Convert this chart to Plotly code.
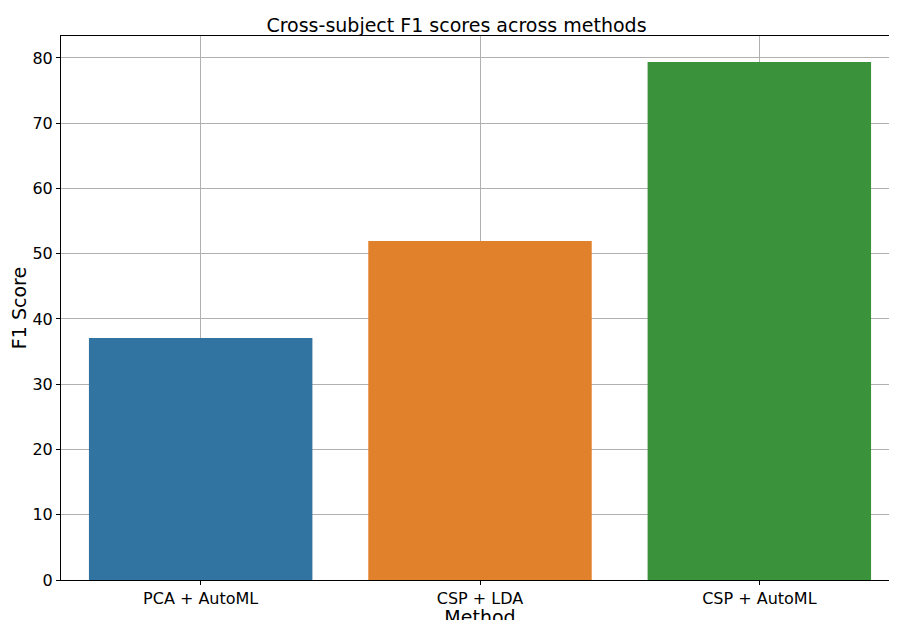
import plotly.graph_objects as go

methods = ["PCA + AutoML", "CSP + LDA", "CSP + AutoML"]
f1_scores = [37.1, 51.95, 79.4]
colors = ["#3274a1", "#e1812c", "#3a923a"]
y_ticks = [0, 10, 20, 30, 40, 50, 60, 70, 80]

fig = go.Figure(go.Bar(x=methods, y=f1_scores, marker=dict(color=colors, line=dict(width=0)), width=0.8))
fig.update_layout(
    width=897, height=620,
    margin=dict(l=53, r=6, t=28, b=48, autoexpand=False),
    plot_bgcolor="white", paper_bgcolor="white",
    font=dict(family="DejaVu Sans", size=16, color="black"),
    title=dict(text="Cross-subject F1 scores across methods", x=0.5, xanchor="center",
               y=1, yref="paper", yanchor="bottom", pad=dict(b=4), font=dict(size=19)),
    showlegend=False,
)
axcommon = dict(showline=True, linecolor="black", linewidth=1, mirror=True,
                showgrid=True, gridcolor="#b0b0b0", gridwidth=0.8, automargin=False,
                ticks="outside", ticklen=4, tickcolor="black", layer="above traces", zeroline=False)
fig.update_xaxes(range=[-0.5, 2.5], title=dict(text="Method", standoff=0), **axcommon)
fig.update_yaxes(range=[0, 83.37], tickvals=y_ticks, title=dict(text="F1 Score", standoff=4), **axcommon)
fig.write_html("out.html")
